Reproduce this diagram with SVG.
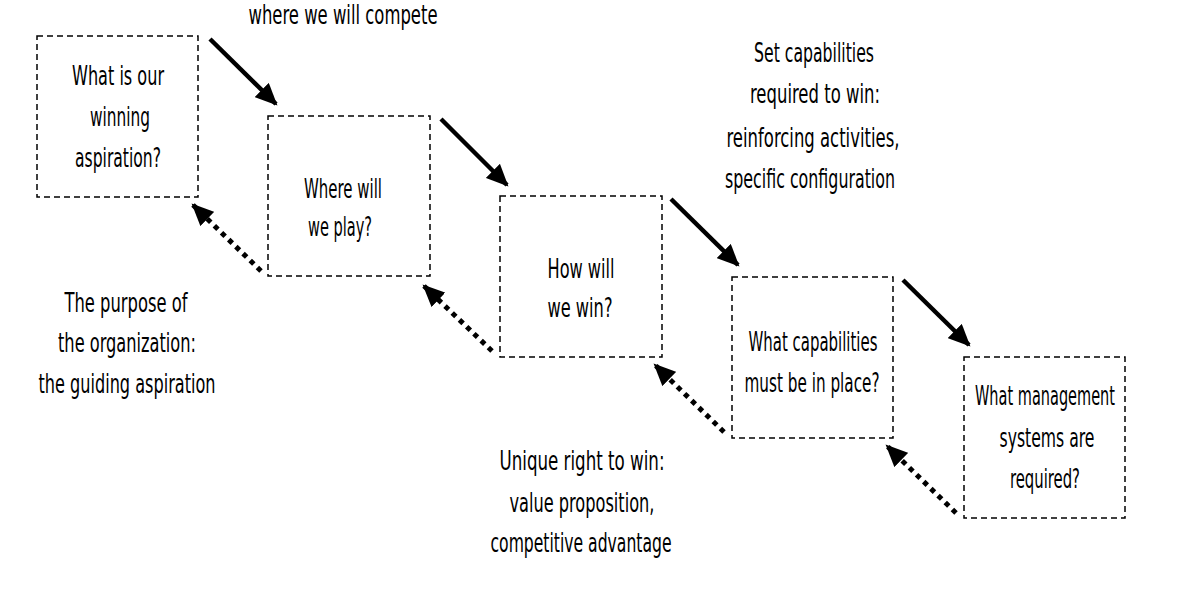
<svg xmlns="http://www.w3.org/2000/svg" width="1200" height="600" viewBox="0 0 1200 600">
<style>
.box{fill:#fff;stroke:#000;stroke-width:1.5;stroke-dasharray:6 4}
.t{font-family:"Liberation Sans Narrow","DejaVu Sans Condensed","Liberation Sans",sans-serif;font-size:26px;fill:#000;text-anchor:middle}
.solid{stroke:#000;stroke-width:4.5;fill:none}
.dot{stroke:#000;stroke-width:5;fill:none;stroke-dasharray:5 5}
</style>
<defs>
<marker id="ah" markerUnits="userSpaceOnUse" markerWidth="24" markerHeight="20" refX="20" refY="10" orient="auto">
<path d="M0,0 L22,10 L0,20 Z" fill="#000"/>
</marker>
</defs>
<rect width="1200" height="600" fill="#fff"/>
<g id="node1"><rect class="box" x="37" y="36" width="161" height="161"/>
<text class="t" x="118" y="85" textLength="92" lengthAdjust="spacingAndGlyphs">What is our</text>
<text class="t" x="120" y="126" textLength="60" lengthAdjust="spacingAndGlyphs">winning</text>
<text class="t" x="118" y="167" textLength="86" lengthAdjust="spacingAndGlyphs">aspiration?</text></g>
<g id="node2"><rect class="box" x="268" y="116" width="162" height="160"/>
<text class="t" x="343" y="198" textLength="78" lengthAdjust="spacingAndGlyphs">Where will</text>
<text class="t" x="340" y="236" textLength="64" lengthAdjust="spacingAndGlyphs">we play?</text></g>
<g id="node3"><rect class="box" x="500" y="196" width="162" height="161"/>
<text class="t" x="581" y="278" textLength="67" lengthAdjust="spacingAndGlyphs">How will</text>
<text class="t" x="580" y="317" textLength="65" lengthAdjust="spacingAndGlyphs">we win?</text></g>
<g id="node4"><rect class="box" x="732" y="277" width="161" height="161"/>
<text class="t" x="813" y="351" textLength="129" lengthAdjust="spacingAndGlyphs">What capabilities</text>
<text class="t" x="812" y="392" textLength="135" lengthAdjust="spacingAndGlyphs">must be in place?</text></g>
<g id="node5"><rect class="box" x="964" y="357" width="161" height="161"/>
<text class="t" x="1045" y="405" textLength="140" lengthAdjust="spacingAndGlyphs">What management</text>
<text class="t" x="1047" y="447" textLength="95" lengthAdjust="spacingAndGlyphs">systems are</text>
<text class="t" x="1045" y="488" textLength="70" lengthAdjust="spacingAndGlyphs">required?</text></g>
<g id="labels">
<text class="t" x="343" y="24" textLength="189" lengthAdjust="spacingAndGlyphs">where we will compete</text>
<text class="t" x="126" y="312" textLength="123" lengthAdjust="spacingAndGlyphs">The purpose of</text>
<text class="t" x="127" y="352" textLength="138" lengthAdjust="spacingAndGlyphs">the organization:</text>
<text class="t" x="127" y="393" textLength="177" lengthAdjust="spacingAndGlyphs">the guiding aspiration</text>
<text class="t" x="814" y="62" textLength="120" lengthAdjust="spacingAndGlyphs">Set capabilities</text>
<text class="t" x="815" y="103" textLength="130" lengthAdjust="spacingAndGlyphs">required to win:</text>
<text class="t" x="813" y="147" textLength="173" lengthAdjust="spacingAndGlyphs">reinforcing activities,</text>
<text class="t" x="810" y="188" textLength="170" lengthAdjust="spacingAndGlyphs">specific configuration</text>
<text class="t" x="582" y="470" textLength="165" lengthAdjust="spacingAndGlyphs">Unique right to win:</text>
<text class="t" x="582" y="512" textLength="145" lengthAdjust="spacingAndGlyphs">value proposition,</text>
<text class="t" x="581" y="552" textLength="181" lengthAdjust="spacingAndGlyphs">competitive advantage</text>
</g>
<g id="connectors">
<line class="solid" x1="210" y1="39" x2="276" y2="104" marker-end="url(#ah)"/>
<line class="solid" x1="441" y1="119" x2="507" y2="185" marker-end="url(#ah)"/>
<line class="solid" x1="671" y1="199" x2="738" y2="265" marker-end="url(#ah)"/>
<line class="solid" x1="903" y1="280" x2="969" y2="345" marker-end="url(#ah)"/>
<line class="dot" x1="261" y1="271" x2="193" y2="205" marker-end="url(#ah)"/>
<line class="dot" x1="492" y1="351" x2="424" y2="286" marker-end="url(#ah)"/>
<line class="dot" x1="724" y1="432" x2="655" y2="365" marker-end="url(#ah)"/>
<line class="dot" x1="956" y1="513" x2="887" y2="446" marker-end="url(#ah)"/>
</g>
</svg>
